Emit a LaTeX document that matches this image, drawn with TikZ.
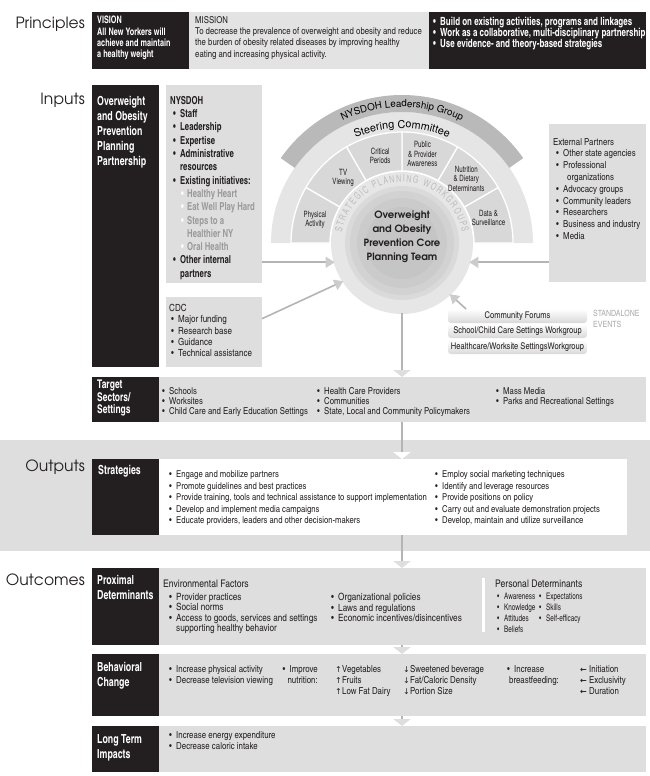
\documentclass[tikz,border=0pt]{standalone}
\usepackage{fontspec}
\setmainfont{texgyreheroscn}[Extension=.otf,UprightFont=*-regular,BoldFont=*-bold,ItalicFont=*-italic,BoldItalicFont=*-bolditalic,BoldFeatures={FakeStretch=0.86}]
\newfontfamily\nar{texgyreheroscn}[Extension=.otf,UprightFont=*-regular,BoldFont=*-bold,ItalicFont=*-italic,BoldItalicFont=*-bolditalic,FakeStretch=0.86]
\newfontfamily\hel{texgyreheros}[Extension=.otf,UprightFont=*-regular,BoldFont=*-bold,ItalicFont=*-italic,BoldItalicFont=*-bolditalic]
\newfontfamily\geo{texgyreadventor}[Extension=.otf,UprightFont=*-regular,BoldFont=*-bold,ItalicFont=*-italic,BoldItalicFont=*-bolditalic]
\newfontfamily\sym{DejaVu Sans}
\usetikzlibrary{arrows.meta,calc,decorations.text}
\definecolor{ink}{HTML}{231F20}
\definecolor{boxg}{HTML}{DEDEDE}
\definecolor{misg}{HTML}{E3E3E3}
\definecolor{lineg}{HTML}{B4B4B4}
\definecolor{tipg}{HTML}{CCCCCC}
\definecolor{subg}{HTML}{9A9A9A}
\definecolor{segg}{HTML}{D8D8D8}
\definecolor{steerg}{HTML}{E5E5E5}
\definecolor{leadg}{HTML}{B9B9B9}
\definecolor{evg}{HTML}{ABABAB}
\definecolor{ringg}{HTML}{E6E6E6}
\definecolor{coreA}{HTML}{DADADA}
\definecolor{coreB}{HTML}{D2D2D2}
\definecolor{coreC}{HTML}{CBCBCB}
\definecolor{coreD}{HTML}{C5C5C5}
\definecolor{wkg}{HTML}{BDBDBD}
\newcommand{\fs}[2]{\fontsize{#1}{#2}\selectfont}
\newcommand{\bu}{\makebox[7pt][l]{\textbullet}}
\newcommand{\ind}{\hspace*{7pt}}
\newcommand{\sbu}[1]{\hspace*{11pt}\makebox[6pt][l]{\textcolor{white}{\textbullet}}\textcolor{subg}{#1}}
\newcommand{\upa}{\makebox[7pt][l]{\sym\fs{8}{10}↑}}
\newcommand{\dna}{\makebox[7pt][l]{\sym\fs{8}{10}↓}}
\newcommand{\lfa}{\makebox[9pt][l]{\sym\bfseries\fs{8}{10}←}}
\newcommand{\arcA}{\hel\fs{9.8}{11}}
\newcommand{\arcB}{\hel\fs{10.8}{12}}
\newcommand{\arcC}{\nar\fs{10}{12}}
\tikzset{
  box/.style={anchor=north west, inner sep=0pt, outer sep=0pt},
  tx/.style={anchor=north west, inner sep=0pt, align=left, text=ink},
  wt/.style={tx, text=white, font=\bfseries\fs{12.5}{15}},
  lbl/.style={anchor=east, inner sep=0pt, font=\geo\fs{15.5}{18}, text=ink},
  seglab/.style={inner sep=0pt, align=center, text=ink, font=\nar\fs{8.7}{9.4}},
  conn/.style={draw=lineg, line width=1.6pt, -{Triangle[length=9pt,width=11pt,color=tipg]}},
  down/.style={draw=lineg, line width=1.8pt, -{Triangle[length=7pt,width=17pt,color=#1]}},
  cfbar/.style={box, minimum width=139pt, minimum height=14pt, rounded corners=3pt, top color=white, bottom color=gray!30, font=\fs{9.2}{11}, text=ink},
}
\begin{document}
\begin{tikzpicture}[x=1pt,y=-1pt]
\useasboundingbox (0,0) rectangle (650,776);
% ---------- Principles
\node[lbl] (lprin) at (85,24) {Principles};
\node[box, fill=ink, minimum width=97pt, minimum height=57pt] (vis) at (92,12) {};
\node[box, fill=misg, minimum width=240pt, minimum height=57pt] (mis) at (189,12) {};
\node[box, fill=ink, minimum width=217pt, minimum height=57pt] (pri) at (429,12) {};
\node[tx, text=white, font=\bfseries\fs{10.3}{11.3}] (vist) at (97,16) {VISION\\All New Yorkers will\\achieve and maintain\\a healthy weight};
\node[tx, font=\fs{9.5}{11.3}] (mist) at (195,16) {MISSION\\To decrease the prevalence of overweight and obesity and reduce\\the burden of obesity related diseases by improving healthy\\eating and increasing physical activity.};
\node[tx, text=white, font=\bfseries\fs{11.3}{11}] (prit) at (433,17) {\bu Build on existing activities, programs and linkages\\\bu Work as a collaborative, multi-disciplinary partnership\\\bu Use evidence- and theory-based strategies};
% ---------- Inputs
\node[lbl] (linp) at (85,100) {Inputs};
\node[box, fill=ink, minimum width=67pt, minimum height=282pt] (ppp) at (92,85) {};
\node[wt] (pppt) at (97,96) {Overweight\\and Obesity\\Prevention\\Planning\\Partnership};
\node[box, fill=boxg, minimum width=96pt, minimum height=198pt] (nys) at (166,85) {};
\node[tx, font=\bfseries\fs{11}{13.3}] (nyst) at (170,96) {NYSDOH\\
\hspace*{3pt}\bu Staff\\
\hspace*{3pt}\bu Leadership\\
\hspace*{3pt}\bu Expertise\\
\hspace*{3pt}\bu Administrative\\
\hspace*{3pt}\ind resources\\
\hspace*{3pt}\bu Existing initiatives:\\
\sbu{Healthy Heart}\\
\sbu{Eat Well Play Hard}\\
\sbu{Steps to a}\\
\hspace*{17pt}\textcolor{subg}{Healthier NY}\\
\sbu{Oral Health}\\
\hspace*{3pt}\bu Other internal\\
\hspace*{3pt}\ind partners};
\node[box, fill=boxg, minimum width=96pt, minimum height=70pt] (cdc) at (166,297) {};
\node[tx, font=\fs{9.8}{11.3}] (cdct) at (169,304) {CDC\\
\hspace*{2pt}\bu Major funding\\
\hspace*{2pt}\bu Research base\\
\hspace*{2pt}\bu Guidance\\
\hspace*{2pt}\bu Technical assistance};
\node[box, fill=boxg, minimum width=97pt, minimum height=158pt] (ext) at (549,124) {};
\node[tx, font=\fs{9.6}{11.8}] (extt) at (553,138) {External Partners\\
\hspace*{3pt}\bu Other state agencies\\
\hspace*{3pt}\bu Professional\\
\hspace*{3pt}\ind\hspace*{4pt}organizations\\
\hspace*{3pt}\bu Advocacy groups\\
\hspace*{3pt}\bu Community leaders\\
\hspace*{3pt}\bu Researchers\\
\hspace*{3pt}\bu Business and industry\\
\hspace*{3pt}\bu Media};
% ---------- fan
\begin{scope}[shift={(402,243)}, y=1pt]
  \fill[steerg] (0:111) arc[start angle=0,end angle=180,radius=111] -- (180:131) arc[start angle=180,end angle=0,radius=131] -- cycle;
  \fill[leadg] (35:131) arc[start angle=35,end angle=145,radius=131] -- (145:148) arc[start angle=145,end angle=35,radius=148] -- cycle;
  \node[circle, minimum size=140pt, inner sep=0pt, outer sep=0pt] (core) at (0,0) {};
  \fill[ringg] (0,0) circle[radius=71];
  \fill[coreA] (0,0) circle[radius=57];
  \fill[coreB] (0,0) circle[radius=52];
  \fill[coreC] (0,0) circle[radius=45];
  \fill[coreD] (0,0) circle[radius=36];
  \foreach \a in {0,30,...,150} {
    \filldraw[fill=segg, draw=white, line width=1.3pt] (\a:72) -- (\a:111) arc[start angle=\a, end angle=\a+30, radius=111] -- ({\a+30}:72) arc[start angle=\a+30, end angle=\a, radius=72] -- cycle;
  }
  \path[decorate, decoration={text along path, text align=center, text={|\arcA|NYSDOH Leadership Group}}] (150:136) arc[start angle=150, end angle=30, radius=136];
  \path[decorate, decoration={text along path, text align=center, text={|\arcB|Steering Committee}}] (150:115) arc[start angle=150, end angle=30, radius=115];
  \path[decorate, decoration={text along path, text align=fit to path, text color=wkg, text={|\arcC|STRATEGIC PLANNING WORKGROUPS}}] (170:61) arc[start angle=170, end angle=10, radius=61];
  \node[seglab] (sg1) at (165:90) {Physical\\Activity};
  \node[seglab] (sg2) at (132:88) {TV\\Viewing};
  \node[seglab] (sg3) at (104:90) {Critical\\Periods};
  \node[seglab] (sg4) at (77:91) {Public\\\& Provider\\Awareness};
  \node[seglab] (sg5) at (45:91) {Nutrition\\\& Dietary\\Determinants};
  \node[seglab] (sg6) at (16:90) {Data \&\\Surveillance};
  \node[inner sep=0pt, align=center, text=ink, font=\geo\bfseries\fs{10}{14}] (coret) at (0,6) {Overweight\\and Obesity\\Prevention Core\\Planning Team};
\end{scope}
% community forums
\node[cfbar] (cf1) at (448,309) {Community Forums};
\node[cfbar] (cf2) at (448,324) {School/Child Care Settings Workgroup};
\node[cfbar] (cf3) at (448,340) {Healthcare/Worksite SettingsWorkgroup};
\node[tx, text=evg, font=\fs{8.6}{11}] (evt) at (593,310) {STANDALONE\\EVENTS};
% input connectors
\draw[conn] (nys.east |- core.196) -- (core.196);
\draw[conn] (ext.west |- core.-16) -- (core.-16);
\draw[conn] ($(cdc.north east)!0.31!(cdc.south east)$) -- (core.213);
\draw[conn] ($(cf1.north west)!0.13!(cf1.north east)$) -- (core.-47);
% ---------- Target sectors
\node[box, fill=ink, minimum width=67pt, minimum height=45pt] (tgtl) at (92,377) {};
\node[box, fill=boxg, minimum width=487pt, minimum height=45pt] (tgt) at (159,377) {};
\node[wt, font=\bfseries\fs{12}{12.5}] (tgtlt) at (97,380) {Target\\Sectors/\\Settings};
\node[tx, font=\fs{9.5}{10}] (tg1) at (162,387) {\bu Schools\\\bu Worksites\\\bu Child Care and Early Education Settings};
\node[tx, font=\fs{9.5}{10}] (tg2) at (317,387) {\bu Health Care Providers\\\bu Communities\\\bu State, Local and Community Policymakers};
\node[tx, font=\fs{9.5}{10}] (tg3) at (496,387) {\bu Mass Media\\\bu Parks and Recreational Settings};
% ---------- Outputs
\node[box, fill=boxg, minimum width=650pt, minimum height=111pt] (outb) at (0,440) {};
\node[lbl] (lout) at (85,467) {Outputs};
\node[box, fill=ink, minimum width=67pt, minimum height=76pt] (strl) at (92,459) {};
\node[box, fill=white, minimum width=468pt, minimum height=76pt] (str) at (159,459) {};
\node[wt] (strlt) at (98,465) {Strategies};
\node[tx, font=\fs{9.4}{11.5}] (st1) at (169,471) {\bu Engage and mobilize partners\\\bu Promote guidelines and best practices\\\bu Provide training, tools and technical assistance to support implementation\\\bu Develop and implement media campaigns\\\bu Educate providers, leaders and other decision-makers};
\node[tx, font=\fs{9.4}{11.5}] (st2) at (435,471) {\bu Employ social marketing techniques\\\bu Identify and leverage resources\\\bu Provide positions on policy\\\bu Carry out and evaluate demonstration projects\\\bu Develop, maintain and utilize surveillance};
% ---------- Outcomes
\node[lbl] (loutc) at (85,580) {Outcomes};
\node[box, fill=ink, minimum width=67pt, minimum height=77pt] (proxl) at (92,568) {};
\node[box, fill=boxg, minimum width=487pt, minimum height=77pt] (prox) at (159,568) {};
\node[box, fill=white, minimum width=3pt, minimum height=54pt] (sepb) at (482,578) {};
\node[wt] (proxlt) at (97,575) {Proximal\\Determinants};
\node[tx, font=\fs{10.5}{12}] (envh) at (163,580) {Environmental Factors};
\node[tx, font=\fs{10}{10.5}] (env1) at (169,593) {\bu Provider practices\\\bu Social norms\\\bu Access to goods, services and settings\\\ind supporting healthy behavior};
\node[tx, font=\fs{10}{10.5}] (env2) at (331,593) {\bu Organizational policies\\\bu Laws and regulations\\\bu Economic incentives/disincentives};
\node[tx, font=\fs{10.5}{12}] (perh) at (495,580) {Personal Determinants};
\node[tx, font=\nar\fs{9}{10.8}] (per1) at (497,593) {\bu Awareness\\\bu Knowledge\\\bu Attitudes\\\bu Beliefs};
\node[tx, font=\nar\fs{9}{10.8}] (per2) at (539,593) {\bu Expectations\\\bu Skills\\\bu Self-efficacy};
% behavioral
\node[box, fill=ink, minimum width=67pt, minimum height=62pt] (behl) at (92,654) {};
\node[box, fill=boxg, minimum width=487pt, minimum height=62pt] (beh) at (159,654) {};
\node[wt] (behlt) at (97,662) {Behavioral\\Change};
\node[tx, font=\fs{9.6}{11}] (bh1) at (169,665) {\bu Increase physical activity\\\bu Decrease television viewing};
\node[tx, align=right, anchor=north east, font=\fs{9.6}{11}] (bh2) at (318,665) {\bu Improve\\nutrition:};
\node[tx, font=\fs{9.6}{11}] (bh3) at (335,665) {\upa Vegetables\\\upa Fruits\\\upa Low Fat Dairy};
\node[tx, font=\fs{9.6}{11}] (bh4) at (403,665) {\dna Sweetened beverage\\\dna Fat/Caloric Density\\\dna Portion Size};
\node[tx, font=\fs{9.6}{11}] (bh5) at (507,665) {\bu Increase\\\hspace*{2pt}breastfeeding:};
\node[tx, font=\fs{9.6}{11}] (bh6) at (580,665) {\lfa Initiation\\\lfa Exclusivity\\\lfa Duration};
% long term
\node[box, fill=ink, minimum width=67pt, minimum height=46pt] (ltl) at (92,726) {};
\node[box, fill=boxg, minimum width=487pt, minimum height=46pt] (lt) at (159,726) {};
\node[wt] (ltlt) at (97,734) {Long Term\\Impacts};
\node[tx, font=\fs{9.6}{11}] (lt1) at (169,731) {\bu Increase energy expenditure\\\bu Decrease caloric intake};
% ---------- vertical flow
\draw[down=boxg] (core.south) -- (tgt.north -| core.south);
\draw[down=white] (tgt.south -| core.south) -- (str.north -| core.south);
\draw[down=boxg] (str.south -| core.south) -- (prox.north -| core.south);
\draw[down=boxg] (prox.south -| core.south) -- (beh.north -| core.south);
\draw[down=boxg] (beh.south -| core.south) -- (lt.north -| core.south);
\end{tikzpicture}
\end{document}
